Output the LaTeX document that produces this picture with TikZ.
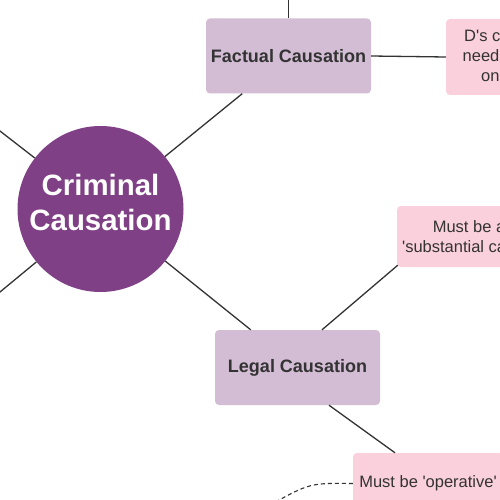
\documentclass[tikz,border=0pt]{standalone}
\usepackage{fontspec}
\setmainfont{Liberation Sans}
\definecolor{circpurple}{HTML}{804086}
\definecolor{lilac}{HTML}{D3BDD4}
\definecolor{pinkbox}{HTML}{FAD0DC}
\definecolor{ink}{HTML}{333333}
\newcommand{\sq}{\textquotesingle}
\begin{document}
\begin{tikzpicture}[x=1pt,y=-1pt,
  conn/.style={draw=ink,line width=1.3pt},
  hub/.style={circle,fill=circpurple,minimum size=166pt,inner sep=0pt},
  hubtext/.style={inner sep=0pt,text=white,align=center,
    font=\fontsize{29.4}{35}\selectfont\bfseries},
  mainbox/.style={rectangle,rounded corners=4pt,fill=lilac,minimum width=165pt,minimum height=75pt,
    inner sep=0pt,text=ink,font=\fontsize{18}{21.6}\selectfont\bfseries},
  notebox/.style={rectangle,rounded corners=4pt,fill=pinkbox,inner sep=0pt,text=ink,align=center,
    font=\fontsize{16.5}{20}\selectfont},
  linetext/.style={anchor=base west,inner sep=0pt,text=ink,font=\fontsize{16.5}{20}\selectfont}]
\useasboundingbox (0,0) rectangle (500,500);
\clip (0,0) rectangle (500,500);
\fill[white] (0,0) rectangle (500,500);

% free ends
\coordinate (topend) at (288.5,-10);
\coordinate (ulend) at (-40,100);
\coordinate (llend) at (-40,325);
\coordinate (dashend) at (270,505);

% nodes
\node[hub] (hub) at (100.5,209) {};
\node[hubtext] (hubt) at (100.5,202) {Criminal\\Causation};
\node[mainbox] (fact) at (288.5,56) {Factual Causation};
\node[mainbox] (legal) at (297.5,367.5) {Legal Causation};
\node[notebox,minimum width=150pt,minimum height=76pt] (ds) at (521,57) {};
\node[notebox,minimum width=144pt,minimum height=61pt] (subst) at (469,236.5) {Must be a\\\sq substantial cause\sq};
\node[notebox,minimum width=150pt,minimum height=61pt] (oper) at (428,483.5) {Must be \sq operative\sq};

% text of the cut-off box
\node[linetext] (ds1) at (464,42) {D\sq s conduct};
\node[linetext] (ds2) at (462.5,62) {need not be};
\node[linetext] (ds3) at (481,82) {only cause};

% connectors
\draw[conn] (topend) -- (fact.north);
\draw[conn] (fact.east) -- (ds.west);
\draw[conn] (hub) -- (fact);
\draw[conn] (hub) -- (legal);
\draw[conn] (hub) -- (ulend);
\draw[conn] (hub) -- (llend);
\draw[conn] ([xshift=24.5pt]legal.north) -- ([xshift=1pt,yshift=2pt]subst.south west);
\draw[conn] ([xshift=31.5pt]legal.south) -- ([xshift=-33pt]oper.north);
\draw[draw=ink,line width=1.1pt,dash pattern=on 4pt off 3pt] (oper.west) .. controls (310,483) .. (dashend);
\end{tikzpicture}
\end{document}
